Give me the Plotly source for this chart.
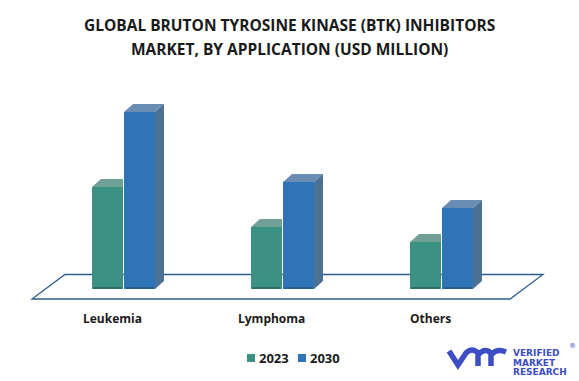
import plotly.graph_objects as go

# ---------------- data ----------------
categories = ["Leukemia", "Lymphoma", "Others"]
years = ["2023", "2030"]
values_2023 = [2040, 1240, 940]
values_2030 = [3540, 2140, 1620]

# ---------------- styling / geometry ----------------
W, H = 579, 381
colors_front = {"2023": "#3b9182", "2030": "#2e74b7"}
colors_top = {"2023": "#71a096", "2030": "#6a8db6"}
colors_side = {"2023": "#3a7a6e", "2030": "#4d7194"}
colors_edge = {"2023": "#2e6f63", "2030": "#275d92"}

px_per_cat = 159.0          # horizontal pixels per category step
cat0_px = 123.5             # pixel x of first category centre
val_per_px = 20.0           # value units per vertical pixel
zero_px = 289.0             # pixel y of value 0

x_min = -cat0_px / px_per_cat
x_max = x_min + W / px_per_cat
y_min = -(H - zero_px) * val_per_px
y_max = zero_px * val_per_px

bar_w = 31.0 / px_per_cat
gap = 1.0 / px_per_cat
depth_x = 9.0 / px_per_cat
depth_y = 8.0 * val_per_px

fig = go.Figure()

series = [("2023", values_2023, -bar_w - gap / 2), ("2030", values_2030, gap / 2)]
xs = list(range(len(categories)))

for name, vals, off in series:
    fig.add_trace(go.Bar(
        x=xs, y=vals, name=name, width=bar_w, offset=off,
        marker=dict(color=colors_front[name], line=dict(width=0)),
        hoverinfo="skip", showlegend=False,
    ))

# 3D faces derived from the data
for name, vals, off in series:
    for i, v in zip(xs, vals):
        x0 = i + off
        x1 = x0 + bar_w
        if name == "2023":
            px_ = [x0, x1, x1, x0 + depth_x, x0]
        else:
            px_ = [x0, x1, x1 + depth_x, x0 + depth_x, x0]
        py_ = [v, v, v + depth_y, v + depth_y, v]
        fig.add_trace(go.Scatter(x=px_, y=py_, mode="lines", line=dict(width=0),
                                 fill="toself", fillcolor=colors_top[name],
                                 showlegend=False, hoverinfo="skip"))
        if name == "2030":
            sx = [x1, x1, x1 + depth_x, x1 + depth_x, x1]
            sy = [0, v, v + depth_y, depth_y, 0]
            fig.add_trace(go.Scatter(x=sx, y=sy, mode="lines", line=dict(width=0),
                                     fill="toself", fillcolor=colors_side[name],
                                     showlegend=False, hoverinfo="skip"))
        # darker bottom edge of the front face
        e = 1.0 * val_per_px
        fig.add_trace(go.Scatter(x=[x0 + 1.5 / px_per_cat, x1 - 1.5 / px_per_cat], y=[e, e],
                                 mode="lines", line=dict(width=2, color=colors_edge[name]),
                                 showlegend=False, hoverinfo="skip"))


def P(x, y):
    return x / W, 1 - y / H


def path_px(cmds):
    out = []
    for c in cmds:
        if isinstance(c, str):
            out.append(c)
        else:
            px, py = P(*c)
            out.append(f"{px:.5f},{py:.5f}")
    return " ".join(out)


# floor (parallelogram)
floor = path_px(["M", (65, 274.5), "L", (543, 274.5), "L", (510, 299), "L", (32, 299), "Z"])
shapes = [dict(type="path", path=floor, xref="paper", yref="paper", layer="below",
               line=dict(color="#2f5e8e", width=1.3), fillcolor="rgba(0,0,0,0)")]

# logo glyph
logo_col = "#3d4ec4"
logo = path_px(["M", (449, 351), "L", (458, 365), "L", (466, 353),
                "Q", (472, 347), (478, 353), "L", (478, 366),
                "M", (478, 355), "Q", (485, 347), (491, 353), "L", (491, 366),
                "M", (491, 355), "Q", (497, 348), (506, 352)])
shapes.append(dict(type="path", path=logo, xref="paper", yref="paper",
                   line=dict(color=logo_col, width=5.5), fillcolor="rgba(0,0,0,0)"))

annotations = []
title_font = dict(family="Open Sans", size=15.5, color="#1a1a1a")
for txt, y in [("<b>GLOBAL BRUTON TYROSINE KINASE (BTK) INHIBITORS</b>", 25.5),
               ("<b>MARKET, BY APPLICATION (USD MILLION)</b>", 49)]:
    annotations.append(dict(text=txt, x=0.5, y=1 - y / H, xref="paper", yref="paper",
                            xanchor="center", yanchor="middle", showarrow=False,
                            font=title_font))

# category labels
for i, c in enumerate(categories):
    annotations.append(dict(text=f"<b>{c}</b>", x=i, y=1 - 318 / H, xref="x", yref="paper",
                            xshift=-11, xanchor="center", yanchor="middle",
                            showarrow=False,
                            font=dict(family="Open Sans", size=12, color="#1a1a1a")))

# legend (squares + labels)
legend_sq_x = [247, 298]
for name, sx in zip(years, legend_sq_x):
    x0, y0 = P(sx, 354)
    x1, y1 = P(sx + 8, 362)
    shapes.append(dict(type="rect", x0=x0, y0=y0, x1=x1, y1=y1, xref="paper", yref="paper",
                       line=dict(width=0), fillcolor=colors_front[name]))
    annotations.append(dict(text=f"<b>{name}</b>", x=(sx + 10) / W, y=1 - 358 / H,
                            xref="paper", yref="paper", xanchor="left", yanchor="middle",
                            showarrow=False,
                            font=dict(family="Open Sans", size=13, color="#1a1a1a")))

# logo text
for txt, y in [("VERIFIED", 353), ("MARKET", 362.5), ("RESEARCH", 372)]:
    annotations.append(dict(text=f"<b>{txt}</b>", x=511 / W, y=1 - y / H, xref="paper",
                            yref="paper", xanchor="left", yanchor="middle",
                            showarrow=False,
                            font=dict(family="DejaVu Sans", size=9, color=logo_col)))
annotations.append(dict(text="®", x=572 / W, y=1 - 346 / H, xref="paper", yref="paper",
                        xanchor="center", yanchor="middle", showarrow=False,
                        font=dict(family="DejaVu Sans", size=7, color=logo_col)))

fig.update_layout(
    width=W, height=H,
    margin=dict(l=0, r=0, t=0, b=0),
    plot_bgcolor="white", paper_bgcolor="white",
    barmode="overlay",
    xaxis=dict(range=[x_min, x_max], visible=False, fixedrange=True),
    yaxis=dict(range=[y_min, y_max], visible=False, fixedrange=True),
    showlegend=False,
    shapes=shapes,
    annotations=annotations,
)

fig.write_html("out.html", config={"displayModeBar": False},
               post_script="document.body.style.margin='0';")
